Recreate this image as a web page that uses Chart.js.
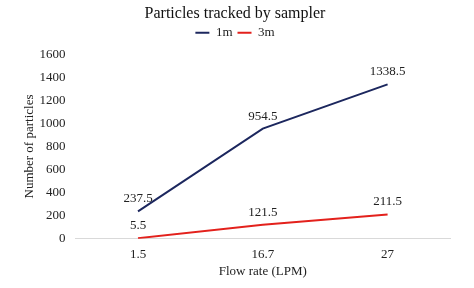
<!DOCTYPE html>
<html>
<head>
<meta charset="utf-8">
<script src="https://cdn.jsdelivr.net/npm/chart.js@4"></script>
<style>
  body { margin: 0; background: #fff; }
  #wrap { width: 474px; height: 288px; }
</style>
</head>
<body>
<div id="wrap"><canvas id="myChart"></canvas></div>
<script>
const flowRates = ['1.5', '16.7', '27'];
const oneMeter = [237.5, 954.5, 1338.5];
const threeMeter = [5.5, 121.5, 211.5];

Chart.defaults.font.family = '"Liberation Serif", "Times New Roman", serif';
Chart.defaults.color = '#222';

// labels above each point
const pointLabels = {
    id: 'pointLabels',
    afterDatasetsDraw(chart) {
        const ctx = chart.ctx;
        ctx.save();
        ctx.font = '13px "Liberation Serif", serif';
        ctx.fillStyle = '#222';
        ctx.textAlign = 'center';
        ctx.textBaseline = 'bottom';
        chart.data.datasets.forEach((ds, i) => {
            chart.getDatasetMeta(i).data.forEach((pt, j) => {
                ctx.fillText(String(ds.data[j]), pt.x, pt.y - 6);
            });
        });
        ctx.restore();
    }
};

// a bit of space under the legend
const legendGap = {
    id: 'legendGap',
    beforeInit(chart) {
        const fit = chart.legend.fit;
        chart.legend.fit = function () {
            fit.bind(chart.legend)();
            this.height += 5;
        };
    }
};

const data = {
    labels: flowRates,
    datasets: [{
        label: '1m',
        data: oneMeter,
        borderColor: '#1c275e',
        backgroundColor: '#1c275e',
        borderWidth: 2,
        pointRadius: 0,
        tension: 0
    }, {
        label: '3m',
        data: threeMeter,
        borderColor: '#e3211c',
        backgroundColor: '#e3211c',
        borderWidth: 2,
        pointRadius: 0,
        tension: 0
    }]
};

const config = {
    type: 'line',
    data: data,
    plugins: [pointLabels, legendGap],
    options: {
        responsive: true,
        maintainAspectRatio: false,
        animation: false,
        layout: { padding: { left: 20, right: 24, top: 2, bottom: 5 } },
        plugins: {
            title: {
                display: true,
                text: 'Particles tracked by sampler',
                font: { size: 16, weight: 'normal' },
                color: '#111',
                padding: { top: 2, bottom: -2 }
            },
            legend: {
                labels: {
                    usePointStyle: true,
                    pointStyle: 'line',
                    pointStyleWidth: 14,
                    font: { size: 13 },
                    boxHeight: 2,
                    padding: 5
                }
            },
            tooltip: { enabled: false }
        },
        scales: {
            x: {
                offset: true,
                grid: { display: false },
                border: { color: '#d9d9d9' },
                ticks: { font: { size: 13 }, padding: 0 },
                title: {
                    display: true,
                    text: 'Flow rate (LPM)',
                    font: { size: 13 },
                    padding: { top: 1, bottom: 4 }
                }
            },
            y: {
                min: 0,
                max: 1600,
                ticks: {
                    stepSize: 200,
                    font: { size: 13 },
                    padding: 10,
                    callback: (v) => String(v)
                },
                grid: { display: false, tickLength: 0 },
                border: { display: false },
                title: {
                    display: true,
                    text: 'Number of particles',
                    font: { size: 13 },
                    padding: { top: 2, bottom: -8 }
                }
            }
        }
    }
};

const myChart = new Chart(document.getElementById('myChart'), config);
</script>
</body>
</html>
